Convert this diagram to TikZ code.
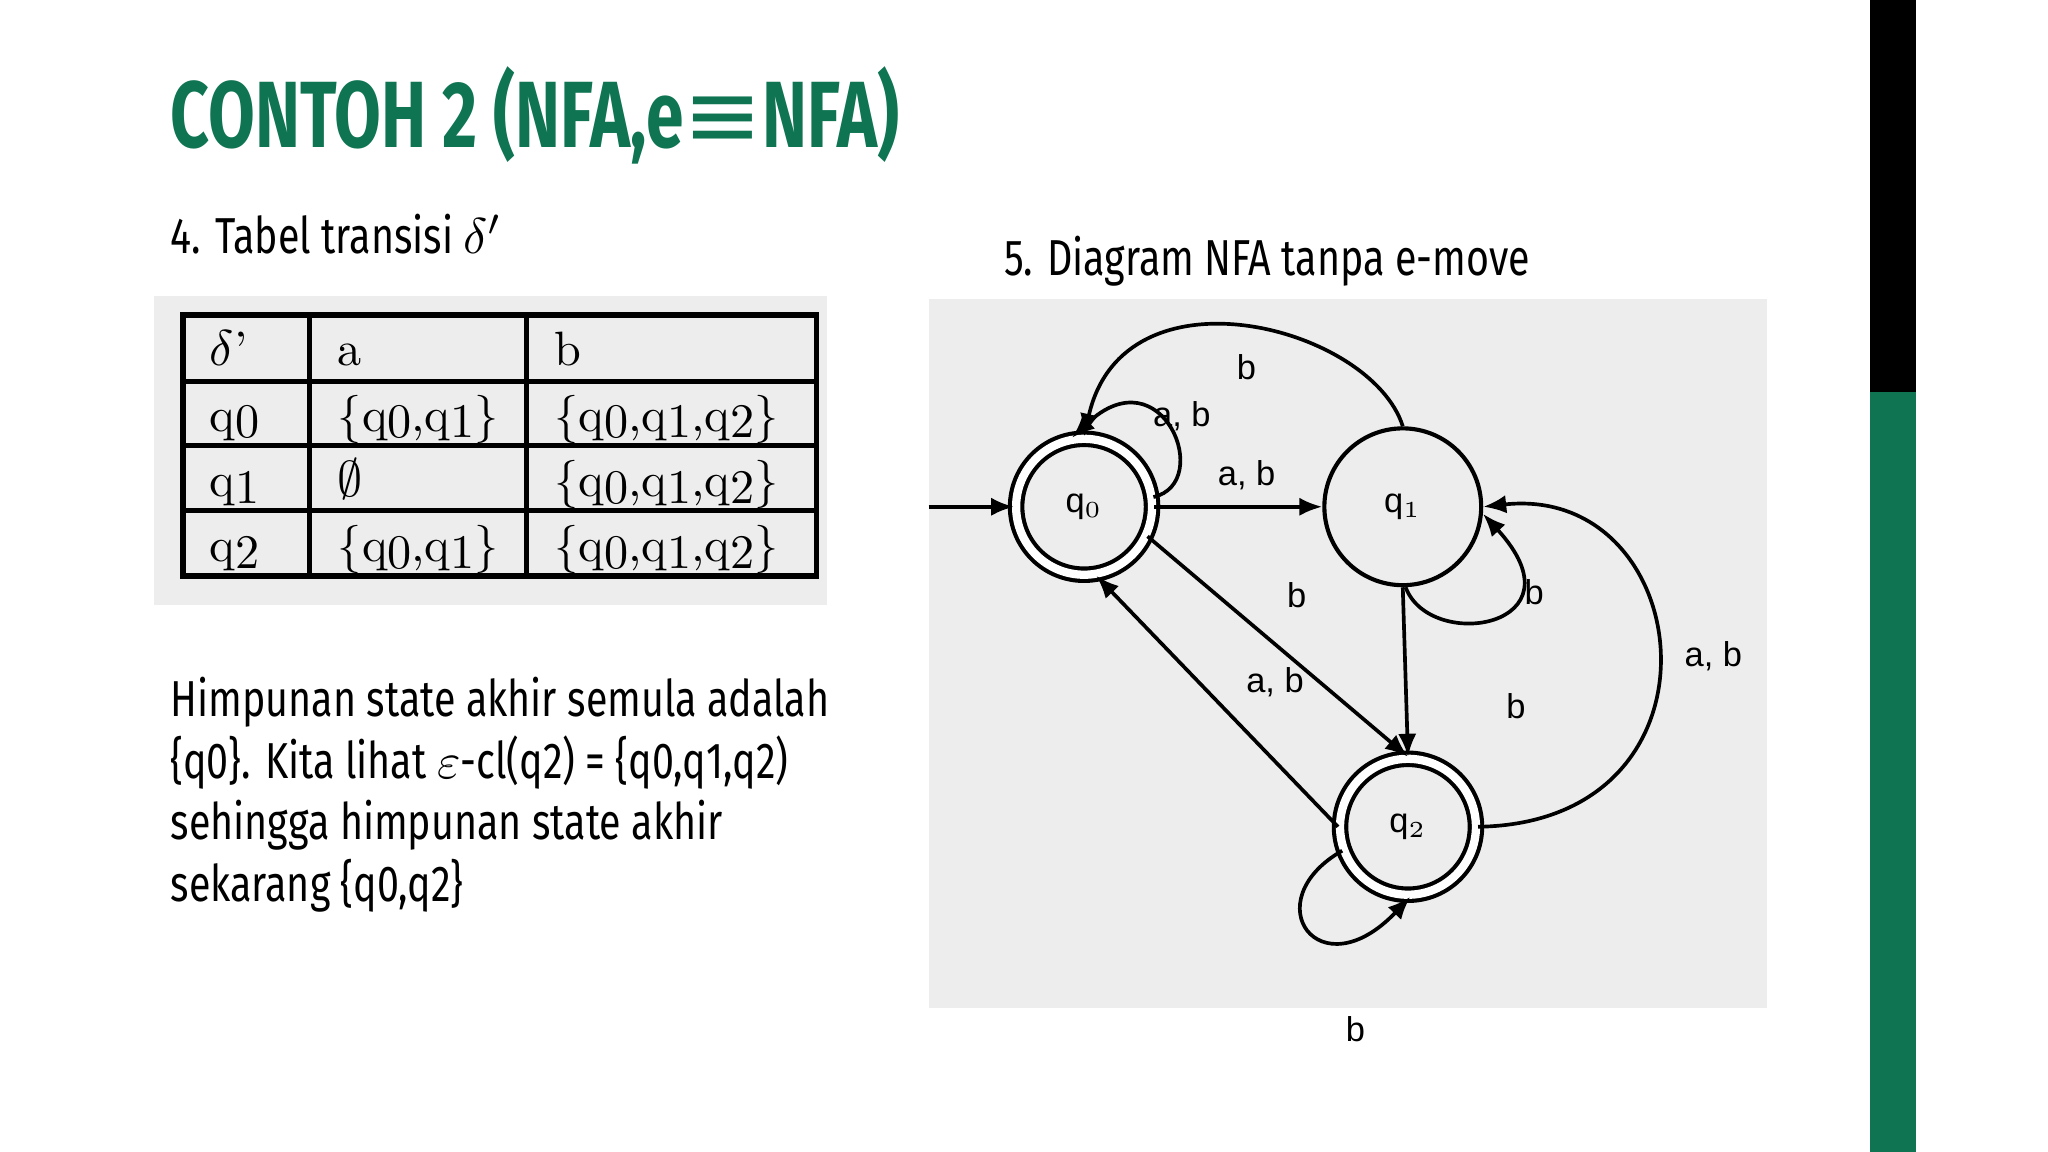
\documentclass[tikz,border=0pt]{standalone}
\usepackage{fontspec}
\usepackage{amssymb}
\newfontfamily\cond[FakeStretch=0.78]{Fira Sans}
\newfontfamily\condb[FakeStretch=0.72]{Fira Sans Bold}
\newfontfamily\gsans{Liberation Sans}
\newfontfamily\djv{DejaVu Sans}
\definecolor{tgreen}{HTML}{0E7452}
\definecolor{bg}{HTML}{EDEDED}
\usetikzlibrary{arrows.meta}
\newcommand{\qs}[1]{q\raisebox{-1.5pt}{#1}}
\begin{document}
\begin{tikzpicture}[x=0.01cm,y=-0.01cm,
  st/.style={circle,draw,line width=0.9pt,minimum size=1.2cm,font=\gsans\fontsize{7.5}{7.5}\selectfont},
  acc/.style={st,double,double distance=1.8pt,minimum size=1.04cm},
  tr/.style={-{Latex[length=5pt,width=4pt]},line width=0.8pt},
  lb/.style={font=\gsans\fontsize{7.5}{7.5}\selectfont},
  tx/.style={font=\fontsize{10.5}{10.5}\selectfont,anchor=base west},
  body/.style={font=\cond\fontsize{11}{13.4}\selectfont,anchor=north west,align=left,inner sep=0}]
\useasboundingbox (0,0) rectangle (1568,882);
\fill[black] (1432,0) rectangle (1467,300);
\fill[tgreen] (1432,300) rectangle (1467,882);
\node[anchor=base west,inner sep=0,text=tgreen,font=\condb\fontsize{20.5}{20.5}\selectfont] (title) at (130,113) {CONTOH 2 (NFA,e{\djv ≡}NFA)};
\node[anchor=base west,inner sep=0,font=\cond\fontsize{11}{11}\selectfont] (h4) at (130,194) {4. Tabel transisi $\delta'$};
\node[anchor=base west,inner sep=0,font=\cond\fontsize{11}{11}\selectfont] (h5) at (768,211) {5. Diagram NFA tanpa e-move};
% table
\fill[bg] (118,227) rectangle (633,463);
\draw[line width=1.2pt] (140,241) rectangle (625,441);
\foreach \y in {292,341,391} \draw[line width=1.1pt] (140,\y) -- (625,\y);
\foreach \x in {237,403} \draw[line width=1.1pt] (\x,241) -- (\x,441);
\begin{scope}[every node/.style={tx,inner sep=0}]
\node (t00) at (160,280) {$\delta$'};
\node (t01) at (258,280) {a};
\node (t02) at (424,280) {b};
\node (t10) at (160,330) {\qs0};
\node (t11) at (258,330) {\{\qs0,\qs1\}};
\node (t12) at (424,330) {\{\qs0,\qs1,\qs2\}};
\node (t20) at (160,380) {\qs1};
\node (t21) at (258,380) {$\emptyset$};
\node (t22) at (424,380) {\{\qs0,\qs1,\qs2\}};
\node (t30) at (160,430) {\qs2};
\node (t31) at (258,430) {\{\qs0,\qs1\}};
\node (t32) at (424,430) {\{\qs0,\qs1,\qs2\}};
\end{scope}
\node[body] (para) at (130,518) {Himpunan state akhir semula adalah\\\{q0\}. Kita lihat $\varepsilon$-cl(q2) = \{q0,q1,q2)\\sehingga himpunan state akhir\\sekarang \{q0,q2\}};
% diagram
\fill[bg] (711,229) rectangle (1353,772);
\node[acc] (q0) at (830,388) {q$_0$};
\node[st] (q1) at (1074,388) {q$_1$};
\node[acc] (q2) at (1078,633) {q$_2$};
\coordinate (s) at (711,388);
\draw[tr] (s) -- (q0);
\draw[tr] (q0.east) -- node[lb,above,pos=0.55]{a, b} (q1.west);
\draw[tr] (q1.north) .. controls (1050,250) and (860,200) .. node[lb,pos=0.5,below,yshift=-2]{b} (q0.north);
\draw[tr] (q0.8) .. controls (930,370) and (890,270) .. node[lb,pos=0.62,right,xshift=-4]{a, b} (q0.100);
\draw[tr] (q0.-25) -- node[lb,pos=0.4,above right,xshift=4]{b} (q2.north);
\draw[tr] (q2.west) -- node[lb,pos=0.45,above right]{a, b} (q0.-80);
\draw[tr] (q1.south) -- node[lb,pos=0.7,right,xshift=18]{b} (q2.north);
\draw[tr] (q1.-88) .. controls (1095,500) and (1215,480) .. node[lb,pos=0.7,right,xshift=-2]{b} (q1.-5);
\draw[tr] (q2.east) .. controls (1330,630) and (1300,370) .. node[lb,pos=0.5,right,xshift=2]{a, b} (q1.east);
\draw[tr] (q2.200) .. controls (960,690) and (1010,760) .. node[lb,pos=0.78,below,yshift=-14]{b} (q2.-88);
\end{tikzpicture}
\end{document}
